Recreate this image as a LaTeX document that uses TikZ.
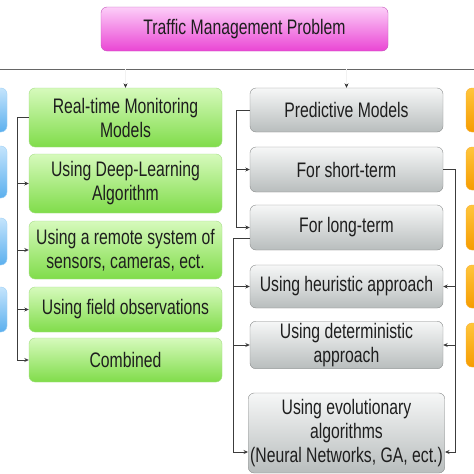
\documentclass[tikz,border=0pt]{standalone}
\usepackage{fontspec}
\setmainfont{Liberation Sans}[FakeStretch=0.75]
\usepackage{xcolor}
\definecolor{ColMagA}{RGB}{252,206,248}
\definecolor{ColMagB}{RGB}{234,70,212}
\definecolor{ColMagD}{RGB}{196,86,186}
\definecolor{ColGrnA}{RGB}{214,250,188}
\definecolor{ColGrnB}{RGB}{128,220,74}
\definecolor{ColGrnD}{RGB}{166,222,136}
\definecolor{ColGryA}{RGB}{246,247,247}
\definecolor{ColGryB}{RGB}{184,189,189}
\definecolor{ColGryD}{RGB}{140,142,142}
\definecolor{ColBluA}{RGB}{196,228,252}
\definecolor{ColBluB}{RGB}{92,176,238}
\definecolor{ColOrgA}{RGB}{255,198,60}
\definecolor{ColOrgB}{RGB}{246,156,0}
\definecolor{ColLine}{RGB}{60,60,60}
\definecolor{ColText}{RGB}{30,30,30}
\usepackage{tikz}
\usetikzlibrary{arrows.meta}
\tikzstyle{Box}=[rounded corners=6pt,align=center,inner sep=2pt,
text=ColText,font=\fontsize{21}{24}\selectfont,minimum width=193pt]
\tikzstyle{BoxTitle}=[Box,draw=ColMagD,top color=ColMagA,bottom color=ColMagB,
minimum width=287pt,minimum height=44pt]
\tikzstyle{BoxGreen}=[Box,draw=ColGrnD,top color=ColGrnA,bottom color=ColGrnB]
\tikzstyle{BoxGrey}=[Box,draw=ColGryD,top color=ColGryA,bottom color=ColGryB]
\tikzstyle{BoxBlue}=[rounded corners=6pt,draw=ColBluB!60,top color=ColBluA,
bottom color=ColBluB,minimum width=30pt]
\tikzstyle{BoxOrange}=[rounded corners=6pt,draw=ColOrgB!80,top color=ColOrgA,
bottom color=ColOrgB,minimum width=34pt]
\tikzstyle{Edge}=[draw=ColLine,line width=0.9pt]
\tikzstyle{EdgeArrow}=[Edge,-{Stealth[length=4.5pt,width=4pt]}]
\tikzstyle{EdgeFaint}=[draw=black!5,line width=0.5pt,
-{Stealth[length=4.5pt,width=4pt,black!80]}]

\begin{document}
\begin{tikzpicture}[x=1pt,y=-1pt]
        \useasboundingbox[fill=white](0,0)rectangle(474,474);
        \clip(0,0)rectangle(474,474);
        \node[BoxTitle](top)at(244.5,29.0){Traffic Management Problem};
        \coordinate(hl)at(0,69);
        \coordinate(hr)at(474,69);
        \draw[Edge,draw=black!60](hl)--(hr);
        % side boxes, cut by the frame
        \node[BoxBlue,minimum height=44pt](b1)at(-8,110.0){};
        \node[BoxBlue,minimum height=52pt](b2)at(-8,172.0){};
        \node[BoxBlue,minimum height=47pt](b3)at(-8,241.5){};
        \node[BoxBlue,minimum height=45pt](b4)at(-8,309.5){};
        \node[BoxOrange,minimum height=44pt](o1)at(483,110.0){};
        \node[BoxOrange,minimum height=43pt](o2)at(483,168.5){};
        \node[BoxOrange,minimum height=45pt](o3)at(483,227.5){};
        \node[BoxOrange,minimum height=43pt](o4)at(483,286.5){};
        \node[BoxOrange,minimum height=44pt](o5)at(483,345.0){};
        % real-time column
        \node[BoxGreen,minimum height=59pt](g1)at(125.5,117.5){Real-time Monitoring\\Models};
        \node[BoxGreen,minimum height=59pt](g2)at(125.5,183.5){Using Deep-Learning\\Algorithm};
        \node[BoxGreen,minimum height=58pt](g3)at(125.5,250.0){Using a remote system of\\sensors, cameras, ect.};
        \node[BoxGreen,minimum height=45pt](g4)at(125.5,309.5){Using field observations};
        \node[BoxGreen,minimum height=44pt](g5)at(125.5,360.0){Combined};
        % predictive column
        \node[BoxGrey,minimum height=44pt](p1)at(346.5,110.0){Predictive Models};
        \node[BoxGrey,minimum height=45pt](p2)at(346.5,169.5){For short-term};
        \node[BoxGrey,minimum height=45pt](p3)at(346.5,227.5){For long-term};
        \node[BoxGrey,minimum height=43pt](p4)at(346.5,286.5){Using heuristic approach};
        \node[BoxGrey,minimum height=44pt](p5)at(346.5,345.0){Using deterministic\\approach};
        \node[BoxGrey,minimum height=80pt](p6)at(346.5,433.0){Using evolutionary\\algorithms\\(Neural Networks, GA, ect.)};
        \coordinate(p3w)at([yshift=-10.5pt]p3.west);
        \coordinate(p6w)at([yshift=-19pt]p6.west);
        \coordinate(p6e)at([yshift=-19pt]p6.east);
        \draw[EdgeFaint](hl-|g1.north)--(g1.north);
        \draw[EdgeFaint](hl-|p1.north)--(p1.north);
        \foreach \n in {g2,g3,g4,g5}
            \draw[EdgeArrow](g1.west)--++(-11,0)|-(\n.west);
        \foreach \n in {p2,p3}
            \draw[EdgeArrow](p1.west)--++(-13,0)|-(\n.west);
        \foreach \n in {p4.west,p5.west,p6w}
            \draw[EdgeArrow](p3w)--++(-16,0)|-(\n);
        \foreach \n in {p4.east,p5.east,p6e}
            \draw[EdgeArrow](p2.east)--++(12,0)|-(\n);
    \end{tikzpicture}
\end{document}
